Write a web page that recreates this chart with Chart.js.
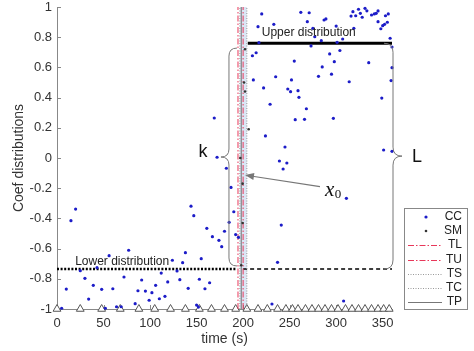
<!DOCTYPE html>
<html>
<head>
<meta charset="utf-8">
<script src="https://cdn.jsdelivr.net/npm/chart.js@4.4.1/dist/chart.umd.min.js"></script>
<style>
    html, body { margin: 0; padding: 0; background: #fff; }
    #wrap { width: 474px; height: 351px; }
</style>
</head>
<body>
<div id="wrap"><canvas id="coefChart" width="474" height="351"></canvas></div>
<script>
// Axis ticks
const xTicks = [0, 50, 100, 150, 200, 250, 300, 350];
const yTicks = [-1, -0.8, -0.6, -0.4, -0.2, 0, 0.2, 0.4, 0.6, 0.8, 1];

// CC coefficients (time, value)
const ccTime = [
    220, 262, 271, 216, 233, 269, 275, 287, 289, 300, 316, 318, 321, 324, 326, 328, 331, 333, 338, 341,
    343, 345, 353, 356, 345, 350, 352, 355, 348, 358, 319, 307, 301, 284, 277, 273, 217, 214, 210, 360,
    255, 293, 298, 304, 285, 281, 295, 314, 335, 360, 359, 235, 252, 211, 222, 248, 251, 259, 260, 229,
    268, 256, 266, 297, 349, 224, 245, 239, 247, 243, 351, 360, 311, 241, 237, 231, 308,
    169, 172, 182, 187, 190, 185, 180, 192, 195, 177, 174, 167, 161, 144, 147,
    20, 15, 77, 56, 138, 155, 124, 135, 43, 25, 129, 30, 72, 112, 91, 132, 153, 119, 164, 106,
    39, 10, 48, 60, 141, 159, 87, 95, 102, 116, 34, 110, 99, 84, 150, 5, 52, 64, 69, 152
];
const ccValue = [
    0.954, 0.965, 0.962, 0.870, 0.885, 0.903, 0.859, 0.914, 0.921, 0.874, 0.940, 0.969, 0.942, 0.985, 0.958, 0.932, 0.991, 0.975, 0.947, 0.954,
    0.958, 0.974, 0.942, 0.954, 0.903, 0.876, 0.885, 0.899, 0.856, 0.793, 0.859, 0.788, 0.766, 0.777, 0.803, 0.742, 0.764, 0.697, 0.677, 0.735,
    0.642, 0.689, 0.638, 0.712, 0.603, 0.541, 0.555, 0.505, 0.631, 0.598, 0.513, 0.538, 0.517, 0.517, 0.464, 0.457, 0.439, 0.446, 0.402, 0.356,
    0.326, 0.254, 0.256, 0.263, 0.397, 0.146, 0.073, -0.020, -0.033, -0.073, 0.053, 0.044, -0.267, -0.444, -0.691, -0.967, -0.947,
    0.265, 0.005, -0.068, -0.195, -0.356, -0.426, -0.485, -0.507, -0.525, -0.587, -0.545, -0.521, -0.466, -0.319, -0.382,
    -0.338, -0.415, -0.611, -0.647, -0.627, -0.667, -0.677, -0.693, -0.726, -0.746, -0.748, -0.797, -0.788, -0.762, -0.808, -0.806, -0.803, -0.821, -0.826, -0.843,
    -0.843, -0.868, -0.870, -0.866, -0.863, -0.866, -0.879, -0.881, -0.892, -0.916, -0.934, -0.932, -0.942, -0.965, -0.974, -0.995, -0.995, -0.985, -0.985, -0.987
];

// SM points along the transition
const smTime = [202, 201, 202, 206, 197, 199.5, 199.5, 198];
const smValue = [0.72, 0.50, 0.44, 0.19, 0.0, -0.17, -0.43, -0.71];

// Sample markers on the time axis
const markerTime = [
    0, 25, 48, 68, 88, 105, 122, 138, 153, 166, 180, 192, 204, 216, 226, 237, 246,
    253, 259, 267, 274, 281, 288, 295, 302, 310, 317, 324, 331, 338, 345, 351, 357
];

// Transition times
const tL = 194.5;
const tU = 200;
const tS = 196.5;
const tC = 204;
const tP = 198;
const bandRange = [196.5, 204];

// Distribution levels
const lowerLevel = -0.735;
const upperLevel = 0.76;
const lowerEnd = 193;
const upperStart = 205;
const timeEnd = 360;

// Annotation anchors (data units)
const kBrace = { x: 184.8, top: 0.728, bottom: -0.715 };
const x0Arrow = { from: [282.6, -0.189], to: [202, -0.113] };
const x0Label = [288, -0.212];

const toPoints = (xs, ys) => xs.map((x, i) => ({ x, y: ys[i] }));
const vLine = (t) => [{ x: t, y: -1 }, { x: t, y: 1 }];
const fontFamily = '"Liberation Sans", Arial, sans-serif';

function drawBrace(ctx, xs, yTop, yBot, dir, w) {
    const ym = (yTop + yBot) / 2;
    ctx.beginPath();
    ctx.moveTo(xs - dir * w, yTop);
    ctx.quadraticCurveTo(xs, yTop, xs, yTop + w);
    ctx.lineTo(xs, ym - w);
    ctx.quadraticCurveTo(xs, ym, xs + dir * w, ym);
    ctx.quadraticCurveTo(xs, ym, xs, ym + w);
    ctx.lineTo(xs, yBot - w);
    ctx.quadraticCurveTo(xs, yBot, xs - dir * w, yBot);
    ctx.stroke();
}

const overlay = {
    id: 'overlay',
    beforeDatasetsDraw(chart) {
        const { ctx, chartArea: a, scales: { x, y } } = chart;
        ctx.save();
        // confidence band around the transition
        const bx1 = x.getPixelForValue(bandRange[0]);
        const bx2 = x.getPixelForValue(bandRange[1]);
        ctx.fillStyle = 'rgba(176, 200, 232, 0.45)';
        ctx.fillRect(bx1, a.top, bx2 - bx1, a.bottom - a.top);

        // inward tick marks
        ctx.strokeStyle = '#888';
        ctx.lineWidth = 1;
        ctx.beginPath();
        yTicks.forEach(v => {
            const py = Math.round(y.getPixelForValue(v)) + 0.5;
            ctx.moveTo(a.left, py);
            ctx.lineTo(a.left + 4, py);
        });
        xTicks.forEach(v => {
            const px = Math.round(x.getPixelForValue(v)) + 0.5;
            ctx.moveTo(px, a.bottom);
            ctx.lineTo(px, a.bottom - 4);
        });
        ctx.stroke();
        ctx.restore();
    },
    afterDatasetsDraw(chart) {
        const { ctx, scales: { x, y } } = chart;
        ctx.save();
        ctx.strokeStyle = '#777';
        ctx.lineWidth = 1;

        // k brace
        drawBrace(ctx, x.getPixelForValue(kBrace.x), y.getPixelForValue(kBrace.top),
            y.getPixelForValue(kBrace.bottom), -1, 8);
        // L brace
        drawBrace(ctx, x.getPixelForValue(timeEnd) + 1, y.getPixelForValue(upperLevel),
            y.getPixelForValue(lowerLevel), 1, 9);

        // x0 arrow
        const ax1 = x.getPixelForValue(x0Arrow.from[0]), ay1 = y.getPixelForValue(x0Arrow.from[1]);
        const ax2 = x.getPixelForValue(x0Arrow.to[0]), ay2 = y.getPixelForValue(x0Arrow.to[1]);
        const ang = Math.atan2(ay2 - ay1, ax2 - ax1);
        ctx.lineWidth = 1.2;
        ctx.beginPath();
        ctx.moveTo(ax1, ay1);
        ctx.lineTo(ax2 - 6 * Math.cos(ang), ay2 - 6 * Math.sin(ang));
        ctx.stroke();
        ctx.fillStyle = '#777';
        ctx.beginPath();
        ctx.moveTo(ax2, ay2);
        ctx.lineTo(ax2 - 9 * Math.cos(ang) + 3.5 * Math.sin(ang), ay2 - 9 * Math.sin(ang) - 3.5 * Math.cos(ang));
        ctx.lineTo(ax2 - 9 * Math.cos(ang) - 3.5 * Math.sin(ang), ay2 - 9 * Math.sin(ang) + 3.5 * Math.cos(ang));
        ctx.closePath();
        ctx.fill();

        // text labels
        ctx.fillStyle = '#222';
        ctx.textBaseline = 'middle';
        ctx.textAlign = 'left';
        ctx.font = '12px ' + fontFamily;
        ctx.fillText('Upper distribution', x.getPixelForValue(220), y.getPixelForValue(0.83));
        ctx.fillText('Lower distribution', x.getPixelForValue(19.5), y.getPixelForValue(-0.687));

        ctx.textAlign = 'center';
        ctx.font = '18px ' + fontFamily;
        ctx.fillStyle = '#111';
        ctx.fillText('k', x.getPixelForValue(157), y.getPixelForValue(0.04));
        ctx.fillText('L', x.getPixelForValue(386.8), y.getPixelForValue(0.007));

        const lx = x.getPixelForValue(x0Label[0]), ly = y.getPixelForValue(x0Label[1]);
        ctx.textAlign = 'left';
        ctx.font = 'italic 21px "Liberation Serif", "DejaVu Serif", serif';
        ctx.fillText('x', lx, ly);
        const xw = ctx.measureText('x').width;
        ctx.font = '13px "Liberation Serif", "DejaVu Serif", serif';
        ctx.fillText('0', lx + xw + 0.5, ly + 5);
        ctx.restore();
    },
    afterDraw(chart) {
        const { ctx, chartArea: a } = chart;
        const items = chart.data.datasets.filter(ds => ds.label);
        const w = 63, rowH = 14.2, h = 101;
        const left = Math.round(a.right) + 12, top = Math.round(a.bottom) - h;
        ctx.save();
        ctx.fillStyle = '#fff';
        ctx.fillRect(left, top, w, h);
        ctx.strokeStyle = '#888';
        ctx.lineWidth = 1;
        ctx.strokeRect(left + 0.5, top + 0.5, w, h);

        ctx.font = '12px ' + fontFamily;
        ctx.textAlign = 'right';
        ctx.textBaseline = 'middle';
        items.forEach((ds, i) => {
            const cy = Math.round(top + 9 + i * rowH);
            if (ds.showLine) {
                ctx.strokeStyle = ds.borderColor;
                ctx.lineWidth = ds.borderWidth;
                ctx.setLineDash(ds.borderDash || []);
                ctx.beginPath();
                ctx.moveTo(left + 4, cy + 0.5);
                ctx.lineTo(left + 38, cy + 0.5);
                ctx.stroke();
                ctx.setLineDash([]);
            } else {
                ctx.fillStyle = ds.backgroundColor;
                ctx.beginPath();
                ctx.arc(left + 22, cy, ds.pointRadius, 0, Math.PI * 2);
                ctx.fill();
            }
            ctx.fillStyle = '#222';
            ctx.fillText(ds.label, left + 58, cy);
        });
        ctx.restore();
    }
};

const lineSet = (label, data, color, width, dash) => ({
    label,
    data,
    showLine: true,
    borderColor: color,
    backgroundColor: color,
    borderWidth: width,
    borderDash: dash,
    pointRadius: 0,
    pointHoverRadius: 0,
    clip: false
});

new Chart(document.getElementById('coefChart'), {
    type: 'scatter',
    data: {
        datasets: [
            {
                label: 'CC',
                data: toPoints(ccTime, ccValue),
                backgroundColor: '#1c1cc8',
                borderWidth: 0,
                pointRadius: 1.6,
                clip: false
            },
            {
                label: 'SM',
                data: toPoints(smTime, smValue),
                backgroundColor: '#333',
                borderWidth: 0,
                pointRadius: 1.3,
                clip: false
            },
            lineSet('TL', vLine(tL), '#e8385a', 1, [6, 2, 1.5, 2]),
            lineSet('TU', vLine(tU), '#e8385a', 1, [6, 2, 1.5, 2]),
            lineSet('TS', vLine(tS), '#999', 1, [1, 1.5]),
            lineSet('TC', vLine(tC), '#999', 1, [1, 1.5]),
            lineSet('TP', vLine(tP), '#777', 1, []),
            lineSet('', [{ x: 0, y: lowerLevel }, { x: lowerEnd, y: lowerLevel }], '#000', 2.5, [2, 1.6]),
            lineSet('', [{ x: tC - 4, y: lowerLevel }, { x: timeEnd, y: lowerLevel }], '#000', 1.4, [4, 3]),
            lineSet('', [{ x: upperStart, y: upperLevel }, { x: timeEnd, y: upperLevel }], '#000', 3, []),
            {
                label: '',
                data: markerTime.map(t => ({ x: t, y: -1 })),
                pointStyle: 'triangle',
                pointRadius: 4.5,
                backgroundColor: '#fff',
                borderColor: '#555',
                borderWidth: 1,
                clip: false
            }
        ]
    },
    options: {
        responsive: false,
        animation: false,
        layout: { padding: { top: 7, right: 82, left: 0, bottom: 0 } },
        plugins: {
            legend: { display: false },
            tooltip: { enabled: false }
        },
        scales: {
            x: {
                type: 'linear',
                min: 0,
                max: 360,
                afterBuildTicks: (scale) => { scale.ticks = xTicks.map(v => ({ value: v })); },
                afterFit: (scale) => { scale.height = 42; },
                grid: { display: false, drawTicks: false },
                border: { display: true, color: '#888' },
                ticks: {
                    color: '#333',
                    padding: 7,
                    maxRotation: 0,
                    font: { size: 13, family: fontFamily },
                    callback: (v) => String(v)
                },
                title: {
                    display: true,
                    text: 'time (s)',
                    color: '#333',
                    font: { size: 14, family: fontFamily },
                    padding: { top: 0, bottom: 3 }
                }
            },
            y: {
                min: -1,
                max: 1,
                afterBuildTicks: (scale) => { scale.ticks = yTicks.map(v => ({ value: v })); },
                afterFit: (scale) => {
                    scale.width = 57;
                    scale.paddingTop = 0;
                    scale.paddingBottom = 0;
                },
                grid: { display: false, drawTicks: false },
                border: { display: true, color: '#888' },
                ticks: {
                    color: '#333',
                    padding: 5,
                    font: { size: 13, family: fontFamily },
                    callback: (v) => String(v)
                },
                title: {
                    display: true,
                    text: 'Coef distributions',
                    color: '#333',
                    font: { size: 14, family: fontFamily },
                    padding: { top: 11, bottom: 0 }
                }
            }
        }
    },
    plugins: [overlay]
});
</script>
</body>
</html>
